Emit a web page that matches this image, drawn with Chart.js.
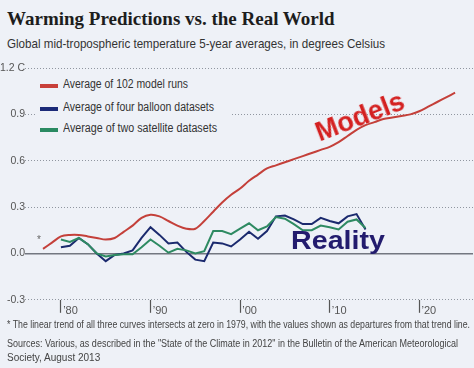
<!DOCTYPE html>
<html>
<head>
<meta charset="utf-8">
<script src="https://cdn.jsdelivr.net/npm/chart.js@4.4.1/dist/chart.umd.min.js"></script>
<style>
  html, body { margin: 0; padding: 0; background: #eef1f7; }
  #wrap { position: relative; width: 474px; height: 368px; overflow: hidden;
          font-family: "Liberation Sans", sans-serif; color: #333; }
  #title { position: absolute; left: 7px; top: 8px; font: bold 19px "Liberation Serif", serif; color: #1d1d1d; white-space: nowrap; }
  #sub { position: absolute; left: 7px; top: 36px; font-size: 13px; color: #333; white-space: nowrap; }
  #chartBox { position: absolute; left: 0; top: 55px; width: 474px; height: 265px; }
  #legend { position: absolute; left: 36px; top: 73px; width: 196px; height: 64px; background: #eef1f7; }
  .li { position: absolute; left: 4px; font-size: 12px; color: #333; white-space: nowrap; line-height: 14px; }
  .sw { position: absolute; left: 0; width: 18px; height: 4px; }
  .lt { position: absolute; left: 23px; top: -7px; white-space: nowrap; transform-origin: 0 50%; }
  .fit { display: inline-block; transform-origin: 0 50%; }
  #models { position: absolute; left: 360px; top: 117px; transform: translate(-50%, -50%) rotate(-21deg);
            font: bold 27px "Liberation Sans", sans-serif; color: #d42020; white-space: nowrap; }
  #reality { position: absolute; left: 338px; top: 240px; transform: translate(-50%, -50%) scaleX(1.1);
             font: bold 26px "Liberation Sans", sans-serif; color: #231c6e; white-space: nowrap; }
  #star { position: absolute; left: 37px; top: 234px; font-size: 10px; color: #666; }
  .foot { position: absolute; left: 7px; font-size: 10px; color: #444; white-space: nowrap; line-height: 13px; }
</style>
</head>
<body>
<div id="wrap">
  <div id="title">Warming Predictions vs. the Real World</div>
  <div id="sub"><span class="fit" data-w="378">Global mid-tropospheric temperature 5-year averages, in degrees Celsius</span></div>
  <div id="chartBox"><canvas id="chart"></canvas></div>
  <div id="legend">
    <div class="li" style="top:11px"><span class="sw" style="background:#c8403a"></span><span class="lt fit" data-w="125">Average of 102 model runs</span></div>
    <div class="li" style="top:34px"><span class="sw" style="background:#1b2a78"></span><span class="lt fit" data-w="151">Average of four balloon datasets</span></div>
    <div class="li" style="top:55px"><span class="sw" style="background:#2a8a62"></span><span class="lt fit" data-w="154">Average of two satellite datasets</span></div>
  </div>
  <div id="models">Models</div>
  <div id="reality">Reality</div>
  <div id="star">*</div>
  <div class="foot" style="top:318px"><span class="fit" data-w="463">* The linear trend of all three curves intersects at zero in 1979, with the values shown as departures from that trend line.</span></div>
  <div class="foot" style="top:337px"><span class="fit" data-w="451">Sources: Various, as described in the "State of the Climate in 2012" in the Bulletin of the American Meteorological</span></div>
  <div class="foot" style="top:351px"><span class="fit" data-w="451">Society, August 2013</span></div>
</div>
<script>
// years on the x axis
const modelYears = [1978, 1979, 1980, 1981, 1982, 1983, 1984, 1985, 1986, 1987, 1988, 1989, 1990, 1991, 1992, 1993,
  1994, 1995, 1996, 1997, 1998, 1999, 2000, 2001, 2002, 2003, 2004, 2005, 2006, 2007, 2008, 2009, 2010, 2011, 2012,
  2013, 2014, 2015, 2016, 2017, 2018, 2019, 2020, 2021, 2022, 2023, 2024];
const obsYears = [1980, 1981, 1982, 1983, 1984, 1985, 1986, 1987, 1988, 1989, 1990, 1991, 1992, 1993, 1994, 1995,
  1996, 1997, 1998, 1999, 2000, 2001, 2002, 2003, 2004, 2005, 2006, 2007, 2008, 2009, 2010, 2011, 2012, 2013, 2014];

// degrees C, departures from trend
const modelRuns = [0.03, 0.07, 0.11, 0.12, 0.12, 0.11, 0.10, 0.09, 0.10, 0.14, 0.18, 0.23, 0.25, 0.24, 0.21, 0.18,
  0.16, 0.16, 0.21, 0.27, 0.33, 0.38, 0.42, 0.47, 0.51, 0.55, 0.57, 0.59, 0.61, 0.63, 0.65, 0.67, 0.69, 0.72, 0.76,
  0.80, 0.83, 0.85, 0.87, 0.88, 0.89, 0.90, 0.92, 0.95, 0.98, 1.01, 1.04];
const balloons = [0.04, 0.05, 0.10, 0.06, 0.00, -0.05, -0.01, 0.00, 0.02, 0.10, 0.17, 0.12, 0.065, 0.07, 0.01, -0.04,
  -0.05, 0.07, 0.065, 0.045, 0.09, 0.14, 0.095, 0.145, 0.24, 0.245, 0.22, 0.19, 0.19, 0.23, 0.21, 0.195, 0.24, 0.255, 0.155];
const satellites = [0.09, 0.075, 0.10, 0.06, 0.00, -0.02, -0.01, -0.005, -0.005, 0.04, 0.09, 0.05, 0.005, 0.03, 0.02, 0.00,
  0.015, 0.145, 0.145, 0.125, 0.16, 0.195, 0.15, 0.175, 0.235, 0.225, 0.19, 0.15, 0.15, 0.18, 0.17, 0.155, 0.205, 0.22, 0.165];

const xTickYears = [1980, 1990, 2000, 2010, 2020];
const yMin = -0.3, yMax = 1.2, yStep = 0.3;

// squeeze the condensed text lines to their width in the original
document.querySelectorAll('.fit').forEach(el => {
  const target = +el.dataset.w;
  const w = el.getBoundingClientRect().width;
  if (w > target) el.style.transform = 'scaleX(' + (target / w) + ')';
});

const pts = (xs, ys) => xs.map((x, i) => ({ x: x, y: ys[i] }));
const isZero = v => Math.abs(v) < 1e-6;

new Chart(document.getElementById('chart'), {
  type: 'line',
  data: {
    datasets: [
      { label: 'Average of 102 model runs', data: pts(modelYears, modelRuns), borderColor: '#c4403a', borderWidth: 2, tension: 0.35 },
      { label: 'Average of two satellite datasets', data: pts(obsYears, satellites), borderColor: '#2e8a62', borderWidth: 2, tension: 0 },
      { label: 'Average of four balloon datasets', data: pts(obsYears, balloons), borderColor: '#1b2a6e', borderWidth: 2, tension: 0 }
    ]
  },
  options: {
    responsive: true,
    maintainAspectRatio: false,
    animation: false,
    elements: { point: { radius: 0 } },
    layout: { padding: { left: 0, right: 1, top: 13, bottom: 2 } },
    plugins: { legend: { display: false }, tooltip: { enabled: false } },
    scales: {
      x: {
        type: 'linear',
        min: 1976,
        max: 2026,
        afterBuildTicks: scale => { scale.ticks = xTickYears.map(v => ({ value: v })); },
        afterFit: scale => { scale.height += 8; },
        grid: { drawOnChartArea: false, drawTicks: true, tickLength: 13, tickColor: '#555', tickWidth: 1.2 },
        border: { display: false },
        ticks: {
          align: 'start',
          padding: -8,
          color: '#555',
          font: { family: 'Liberation Sans', size: 11 },
          callback: v => '\u2009\u2019' + String(v).slice(2)
        }
      },
      y: {
        min: yMin,
        max: yMax,
        ticks: {
          stepSize: yStep,
          padding: 0,
          color: '#555',
          font: { family: 'Liberation Sans', size: 10.5 },
          callback: v => isZero(v - 1.2) ? '1.2 C' : v.toFixed(1)
        },
        grid: {
          drawTicks: false,
          color: ctx => isZero(ctx.tick.value) ? '#737780' : '#9096a0',
          lineWidth: ctx => isZero(ctx.tick.value) ? 1.5 : 1
        },
        border: { display: false, dash: ctx => isZero(ctx.tick.value) ? [] : [1, 2] }
      }
    }
  }
});
</script>
</body>
</html>
